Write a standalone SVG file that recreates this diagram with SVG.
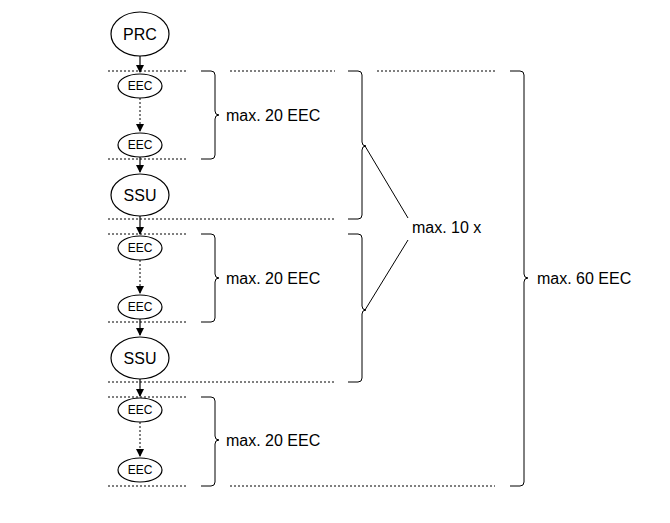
<svg xmlns="http://www.w3.org/2000/svg" width="670" height="523" viewBox="0 0 670 523">
<style>
text{font-family:"Liberation Sans",Arial,sans-serif;fill:#000}
.n{fill:#fff;stroke:#000;stroke-width:1.2}
.d{stroke:#000;stroke-width:1;stroke-dasharray:2,2;fill:none}
.s{stroke:#000;stroke-width:1.2;fill:none}
.b{stroke:#000;stroke-width:1;fill:none}
.big{font-size:16px}
.sm{font-size:12px}
</style>
<defs><marker id="a" markerWidth="8" markerHeight="8" refX="7" refY="4" orient="auto" markerUnits="userSpaceOnUse"><path d="M0,0 L8,4 L0,8z" fill="#000"/></marker></defs>
<rect width="670" height="523" fill="#fff"/>
<g id="guides">
<path class="d" d="M108,71H186M230,71H335M377,71H495M108,159H186M108,219H335M108,234H186M108,322H186M108,382H335M108,397H186M108,486H186M230,486H495"/>
</g>
<g id="connectors">
<path class="s" d="M140,56V72" marker-end="url(#a)"/>
<path class="d" d="M140,98V131" marker-end="url(#a)"/>
<path class="s" d="M140,157V172" marker-end="url(#a)"/>
<path class="s" d="M140,216V234" marker-end="url(#a)"/>
<path class="d" d="M140,260V293" marker-end="url(#a)"/>
<path class="s" d="M140,319V335" marker-end="url(#a)"/>
<path class="s" d="M140,379V396" marker-end="url(#a)"/>
<path class="d" d="M140,422V456" marker-end="url(#a)"/>
<path class="b" d="M365,146L408,218M365,310L408,240"/>
</g>
<g id="brackets">
<path class="b" d="M201,71H211Q215,71 215,75V111Q215,115 219,115Q215,115 215,119V155Q215,159 211,159H201"/>
<path class="b" d="M201,234H211Q215,234 215,238V274Q215,278 219,278Q215,278 215,282V318Q215,322 211,322H201"/>
<path class="b" d="M201,397H211Q215,397 215,401V436Q215,440 219,440Q215,440 215,444V482Q215,486 211,486H201"/>
<path class="b" d="M348,71H358Q362,71 362,75V142Q362,146 366,146Q362,146 362,150V215Q362,219 358,219H348"/>
<path class="b" d="M348,234H358Q362,234 362,238V306Q362,310 366,310Q362,310 362,314V378Q362,382 358,382H348"/>
<path class="b" d="M510,71H520Q524,71 524,75V274Q524,278 528,278Q524,278 524,282V482Q524,486 520,486H510"/>
</g>
<g id="PRC"><ellipse class="n" cx="140" cy="34" rx="29" ry="22"/><text class="big" x="140" y="40" text-anchor="middle">PRC</text></g>
<g id="EEC1"><ellipse class="n" cx="140" cy="86" rx="22" ry="12"/><text class="sm" x="140" y="90" text-anchor="middle">EEC</text></g>
<g id="EEC2"><ellipse class="n" cx="140" cy="145" rx="22" ry="12"/><text class="sm" x="140" y="149" text-anchor="middle">EEC</text></g>
<g id="SSU1"><ellipse class="n" cx="140" cy="195" rx="29" ry="21"/><text class="big" x="140" y="201" text-anchor="middle">SSU</text></g>
<g id="EEC3"><ellipse class="n" cx="140" cy="248" rx="22" ry="12"/><text class="sm" x="140" y="252" text-anchor="middle">EEC</text></g>
<g id="EEC4"><ellipse class="n" cx="140" cy="307" rx="22" ry="12"/><text class="sm" x="140" y="311" text-anchor="middle">EEC</text></g>
<g id="SSU2"><ellipse class="n" cx="140" cy="358" rx="29" ry="21"/><text class="big" x="140" y="364" text-anchor="middle">SSU</text></g>
<g id="EEC5"><ellipse class="n" cx="140" cy="410" rx="22" ry="12"/><text class="sm" x="140" y="414" text-anchor="middle">EEC</text></g>
<g id="EEC6"><ellipse class="n" cx="140" cy="470" rx="22" ry="12"/><text class="sm" x="140" y="474" text-anchor="middle">EEC</text></g>
<g id="labels">
<text class="big" x="226" y="121">max. 20 EEC</text>
<text class="big" x="226" y="284">max. 20 EEC</text>
<text class="big" x="226" y="446">max. 20 EEC</text>
<text class="big" x="412" y="233">max. 10 x</text>
<text class="big" x="537" y="284">max. 60 EEC</text>
</g>
</svg>
